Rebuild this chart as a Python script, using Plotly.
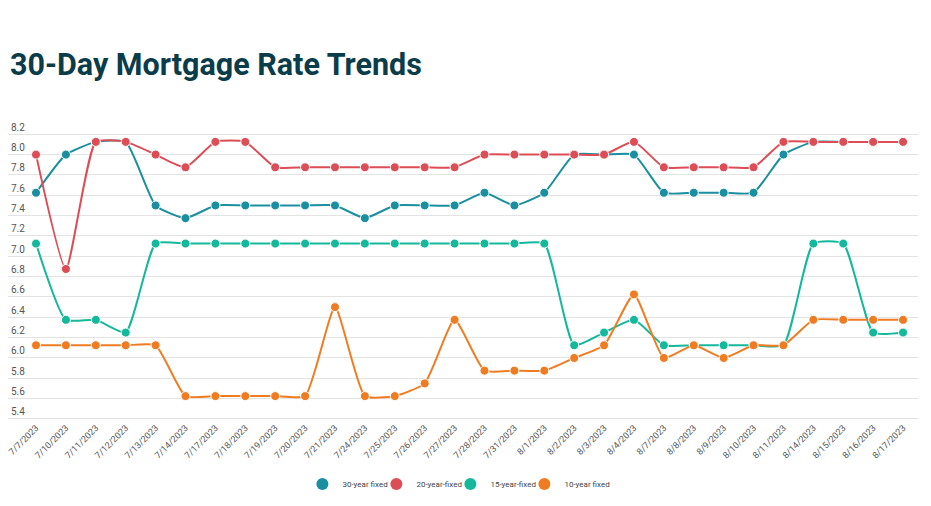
import plotly.graph_objects as go

dates = ["7/7/2023", "7/10/2023", "7/11/2023", "7/12/2023", "7/13/2023", "7/14/2023",
         "7/17/2023", "7/18/2023", "7/19/2023", "7/20/2023", "7/21/2023", "7/24/2023",
         "7/25/2023", "7/26/2023", "7/27/2023", "7/28/2023", "7/31/2023", "8/1/2023",
         "8/2/2023", "8/3/2023", "8/4/2023", "8/7/2023", "8/8/2023", "8/9/2023",
         "8/10/2023", "8/11/2023", "8/14/2023", "8/15/2023", "8/16/2023", "8/17/2023"]

fixed30 = [7.625, 8.0, 8.125, 8.125, 7.5, 7.375, 7.5, 7.5, 7.5, 7.5, 7.5, 7.375,
           7.5, 7.5, 7.5, 7.625, 7.5, 7.625, 8.0, 8.0, 8.0, 7.625, 7.625, 7.625,
           7.625, 8.0, 8.125, 8.125, 8.125, 8.125]
fixed20 = [8.0, 6.875, 8.125, 8.125, 8.0, 7.875, 8.125, 8.125, 7.875, 7.875, 7.875, 7.875,
           7.875, 7.875, 7.875, 8.0, 8.0, 8.0, 8.0, 8.0, 8.125, 7.875, 7.875, 7.875,
           7.875, 8.125, 8.125, 8.125, 8.125, 8.125]
fixed15 = [7.125, 6.375, 6.375, 6.25, 7.125, 7.125, 7.125, 7.125, 7.125, 7.125, 7.125, 7.125,
           7.125, 7.125, 7.125, 7.125, 7.125, 7.125, 6.125, 6.25, 6.375, 6.125, 6.125, 6.125,
           6.125, 6.125, 7.125, 7.125, 6.25, 6.25]
fixed10 = [6.125, 6.125, 6.125, 6.125, 6.125, 5.625, 5.625, 5.625, 5.625, 5.625, 6.5, 5.625,
           5.625, 5.75, 6.375, 5.875, 5.875, 5.875, 6.0, 6.125, 6.625, 6.0, 6.125, 6.0,
           6.125, 6.125, 6.375, 6.375, 6.375, 6.375]

series = [
    ("30-year fixed", fixed30, "#1a8fa0"),
    ("20-year-fixed", fixed20, "#dc4d56"),
    ("15-year-fixed", fixed15, "#14b89a"),
    ("10-year fixed", fixed10, "#f07c22"),
]

y_ticks = [5.4, 5.6, 5.8, 6.0, 6.2, 6.4, 6.6, 6.8, 7.0, 7.2, 7.4, 7.6, 7.8, 8.0, 8.2]

fig = go.Figure()
for name, vals, color in series:
    fig.add_trace(go.Scatter(
        x=dates, y=vals, name=name, mode="lines+markers",
        line=dict(color=color, width=2, shape="spline", smoothing=0.5),
        marker=dict(color=color, size=9, line=dict(color="white", width=1)),
        showlegend=False,
    ))
for name, vals, color in series:
    fig.add_trace(go.Scatter(
        x=[None], y=[None], name=name, mode="markers",
        marker=dict(color=color, size=12),
        showlegend=True,
    ))
# empty spacer entry so the last legend label is not clipped
fig.add_trace(go.Scatter(
    x=[None], y=[None], name=" ", mode="markers",
    marker=dict(color="rgba(0,0,0,0)", size=1),
    showlegend=True, hoverinfo="skip",
))

fig.add_annotation(
    text="<b>30-Day Mortgage Rate Trends</b>", xref="paper", yref="paper",
    x=0, y=1.1827, xanchor="left", yanchor="middle", showarrow=False,
    font=dict(family="Roboto", size=30.5, color="#0b3c49"),
)

fig.update_layout(
    width=931, height=506,
    paper_bgcolor="white", plot_bgcolor="white",
    margin=dict(l=0, r=21, t=111, b=94),
    font=dict(family="Roboto", color="#555555", size=11),
    showlegend=True,
    legend=dict(orientation="h", x=0.3235, xanchor="left", y=-0.213, yanchor="middle",
                font=dict(size=8, color="#444444"), itemsizing="trace",
                entrywidth=29),
    xaxis=dict(type="category", range=[-0.937, 29.5], tickangle=-45,
               showgrid=False, showline=False, ticks="", automargin=False,
               tickfont=dict(size=9, color="#555555")),
    yaxis=dict(range=[5.39, 8.35], tickvals=y_ticks, automargin=False,
               ticktext=[f"{v:.1f}" for v in y_ticks],
               ticklabelposition="inside top", showgrid=True,
               gridcolor="#e3e3e3", gridwidth=1, zeroline=False,
               tickfont=dict(size=10, color="#555555")),
)

fig.write_html("out.html")
